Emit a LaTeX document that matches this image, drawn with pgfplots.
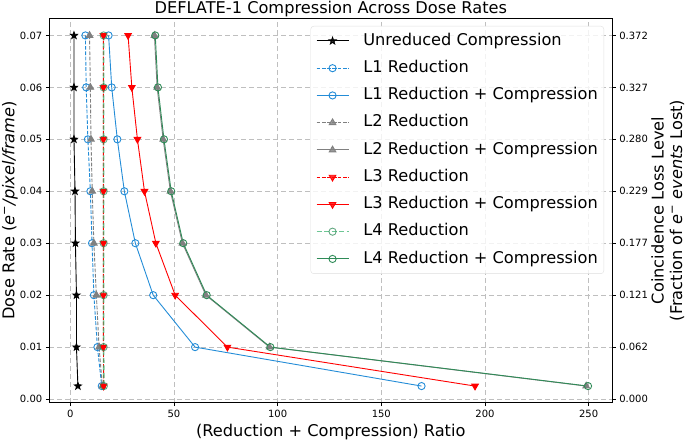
\documentclass[border=0pt]{standalone}
\usepackage{fontspec}
\setmainfont{DejaVu Sans}
\usepackage{pgfplots}
\pgfplotsset{compat=1.18}
\definecolor{blueC}{RGB}{35,140,215}
\definecolor{greenD}{RGB}{46,139,87}
\definecolor{greenL}{RGB}{60,179,113}
\definecolor{grayC}{RGB}{128,128,128}
\definecolor{redC}{RGB}{255,0,0}
\pgfdeclareplotmark{fstar}{%
\pgfpathmoveto{\pgfpointpolar{90}{\pgfplotmarksize}}%
\pgfpathlineto{\pgfpointpolar{126}{0.4\pgfplotmarksize}}%
\pgfpathlineto{\pgfpointpolar{162}{\pgfplotmarksize}}%
\pgfpathlineto{\pgfpointpolar{198}{0.4\pgfplotmarksize}}%
\pgfpathlineto{\pgfpointpolar{234}{\pgfplotmarksize}}%
\pgfpathlineto{\pgfpointpolar{270}{0.4\pgfplotmarksize}}%
\pgfpathlineto{\pgfpointpolar{306}{\pgfplotmarksize}}%
\pgfpathlineto{\pgfpointpolar{342}{0.4\pgfplotmarksize}}%
\pgfpathlineto{\pgfpointpolar{18}{\pgfplotmarksize}}%
\pgfpathlineto{\pgfpointpolar{54}{0.4\pgfplotmarksize}}%
\pgfpathclose\pgfusepathqfillstroke}
\begin{document}
\begin{tikzpicture}
\begin{axis}[name=ax, scale only axis, width=563pt, height=384.4pt,
 xmin=-10.1, xmax=261.4, ymin=-0.0007, ymax=0.0733,
 scaled ticks=false,
 xtick={0,50,100,150,200,250},
 ytick={0,0.01,0.02,0.03,0.04,0.05,0.06,0.07},
 yticklabels={0.00,0.01,0.02,0.03,0.04,0.05,0.06,0.07},
 xtick pos=bottom, ytick pos=left, tick align=outside, major tick length=3.5pt,
 tick style={black, line width=0.8pt},
 axis line style={line width=0.8pt},
 grid=major, grid style={gray!50, line width=0.8pt, dash pattern=on 5pt off 3pt},
 ticklabel style={font=\fontsize{10}{12}\selectfont},
 /pgf/number format/assume math mode=true,
 title={DEFLATE-1 Compression Across Dose Rates},
 every axis title/.style={at={(axis description cs:0.5,1.0112)}, anchor=base, font=\fontsize{16.2}{19}\selectfont},
 xlabel={(Reduction + Compression) Ratio},
 xlabel style={at={(axis description cs:0.5,-0.089)}, anchor=base, font=\fontsize{16.2}{19}\selectfont},
 ylabel={Dose Rate (\textit{e\textsuperscript{−}/pixel/frame})},
 ylabel style={at={(axis description cs:-0.0699,0.5)}, anchor=center, font=\fontsize{16.2}{19}\selectfont},
 legend cell align=left,
 legend image code/.code={\draw[mark repeat=2,mark phase=2] plot coordinates {(0pt,0pt) (16pt,0pt) (32pt,0pt)};},
 legend style={at={(1,1)}, anchor=north east, xshift=-8.3pt, yshift=-7.7pt,
   font=\fontsize{16.2}{19}\selectfont, draw=gray!25, rounded corners=3pt,
   fill=white, fill opacity=0.8, text opacity=1,
   inner xsep=5pt, inner ysep=6pt, row sep=9.75pt, column sep=13pt,
   nodes={inner sep=1pt, text height=12pt, text depth=3.5pt}},
 every axis plot/.append style={line width=0.9pt},
]
\addplot[black, mark=fstar, mark size=3.6pt, mark options={solid}] coordinates {
(1.8,0.07)(1.8,0.06)(1.8,0.05)(2.3,0.04)(2.5,0.03)(3.0,0.02)(3.0,0.01)(3.7,0.0025)};
\addlegendentry{Unreduced Compression}
\addplot[blueC, dash pattern=on 3.7pt off 1.6pt, mark=o, mark size=3.6pt, mark options={solid}] coordinates {
(7.3,0.07)(7.7,0.06)(8.5,0.05)(9.7,0.04)(10.5,0.03)(11.4,0.02)(13.1,0.01)(15.2,0.0025)};
\addlegendentry{L1 Reduction}
\addplot[blueC, mark=o, mark size=3.6pt] coordinates {
(18.5,0.07)(20.0,0.06)(22.7,0.05)(26.1,0.04)(31.4,0.03)(40.0,0.02)(60.2,0.01)(169.4,0.0025)};
\addlegendentry{L1 Reduction + Compression}
\addplot[grayC, dash pattern=on 3.7pt off 1.6pt, mark=triangle*, mark size=3.8pt, mark options={solid}] coordinates {
(9.3,0.07)(9.7,0.06)(10.0,0.05)(10.6,0.04)(11.4,0.03)(12.6,0.02)(13.9,0.01)(15.5,0.0025)};
\addlegendentry{L2 Reduction}
\addplot[grayC, mark=triangle*, mark size=3.8pt] coordinates {
(40.6,0.07)(41.9,0.06)(44.8,0.05)(48.3,0.04)(54.1,0.03)(65.4,0.02)(96.1,0.01)(248.8,0.0025)};
\addlegendentry{L2 Reduction + Compression}
\addplot[redC, dash pattern=on 3.7pt off 1.6pt, mark=triangle*, mark size=3.8pt, mark options={solid, rotate=180}] coordinates {
(16.0,0.07)(16.0,0.06)(16.0,0.05)(16.0,0.04)(16.0,0.03)(16.0,0.02)(16.0,0.01)(16.1,0.0025)};
\addlegendentry{L3 Reduction}
\addplot[redC, mark=triangle*, mark size=3.8pt, mark options={rotate=180}] coordinates {
(27.9,0.07)(29.7,0.06)(32.4,0.05)(35.8,0.04)(41.3,0.03)(50.6,0.02)(75.8,0.01)(195.2,0.0025)};
\addlegendentry{L3 Reduction + Compression}
\addplot[greenL, line width=1.6pt, draw opacity=0.75, dash pattern=on 5pt off 2.5pt, mark=o, mark size=3.6pt, mark options={solid, line width=0.9pt, greenD}] coordinates {
(16.1,0.07)(16.1,0.06)(16.1,0.05)(16.1,0.04)(16.1,0.03)(16.1,0.02)(16.1,0.01)(16.2,0.0025)};
\addlegendentry{L4 Reduction}
\addplot[greenD, mark=o, mark size=3.6pt] coordinates {
(41.0,0.07)(42.3,0.06)(45.2,0.05)(48.7,0.04)(54.5,0.03)(65.8,0.02)(96.5,0.01)(249.7,0.0025)};
\addlegendentry{L4 Reduction + Compression}
\end{axis}
\begin{axis}[scale only axis, width=563pt, height=384.4pt,
 xmin=0, xmax=1, ymin=-0.0007, ymax=0.0733,
 scaled ticks=false,
 axis x line=none, axis y line*=right,
 ytick={0,0.01,0.02,0.03,0.04,0.05,0.06,0.07},
 yticklabels={0.000,0.062,0.121,0.177,0.229,0.280,0.327,0.372},
 tick align=outside, major tick length=3.5pt,
 tick style={black, line width=0.8pt},
 axis line style={line width=0.8pt},
 ticklabel style={font=\fontsize{10}{12}\selectfont},
 /pgf/number format/assume math mode=true,
 ylabel={Coincidence Loss Level\\(Fraction of \textit{e\textsuperscript{−} events} Lost)},
 ylabel style={at={(axis description cs:1.0985,0.5)}, anchor=center, align=center, font=\fontsize{16.2}{18.5}\selectfont},
]
\end{axis}
\pgfresetboundingbox
\path ([shift={(-49.3pt,-37.3pt)}]ax.south west) rectangle ([shift={(72.7pt,18.3pt)}]ax.north east);
\end{tikzpicture}
\end{document}
